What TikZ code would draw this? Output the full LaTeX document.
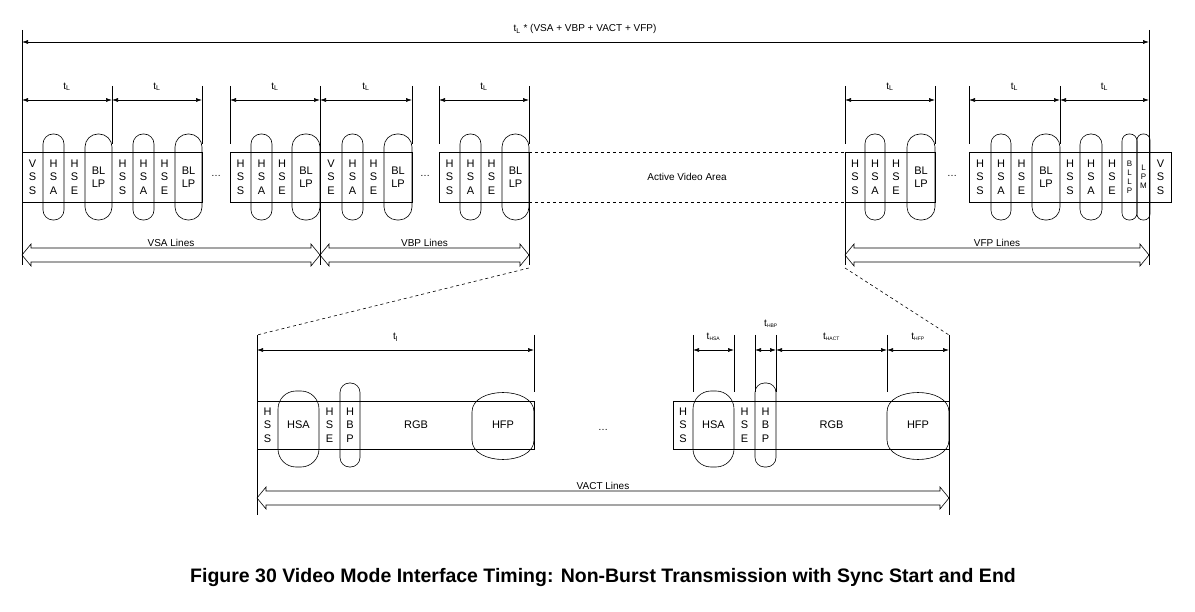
\documentclass[tikz,border=0pt]{standalone}
\usepackage{fontspec}
\setmainfont{Liberation Sans}
\usetikzlibrary{arrows.meta}
\newcommand\cellt[3]{\node[cl] at ({(#1+#2)/2},177) {#3};}
\newcommand\stad[5]{\draw[rounded corners=#5pt] (#1,#3) rectangle (#2,#4);}
\newcommand\dimarr[4]{\draw[dim] (#1,#3) -- (#2,#3); \node[lb] at ({(#1+#2)/2},{#3-13}) {#4};}
\newcommand\tick[3]{\draw (#1,#2) -- (#1,#3);}
\newcommand\dbl[4]{\draw[line width=0.6pt] (#1,#3) -- ({#1+9},{#3-11}) -- ({#1+9},{#3-7}) -- ({#2-9},{#3-7}) -- ({#2-9},{#3-11}) -- (#2,#3) -- ({#2-9},{#3+11}) -- ({#2-9},{#3+7}) -- ({#1+9},{#3+7}) -- ({#1+9},{#3+11}) -- cycle;
 \node[lb,anchor=south] at ({(#1+#2)/2},{#3-7}) {#4};}
\newcommand\tl{t\textsubscript{L}}
\begin{document}
\begin{tikzpicture}[x=1pt,y=-1pt,line width=0.6pt,
 cl/.style={font=\fontsize{11}{13.5}\selectfont,inner sep=0,align=center},
 sm/.style={font=\fontsize{8}{9}\selectfont,inner sep=0,align=center},
 lb/.style={font=\fontsize{10}{12}\selectfont,inner sep=1pt},
 dim/.style={{Latex[length=6pt,width=4pt]}-{Latex[length=6pt,width=4pt]}}]
\useasboundingbox (0,0) rectangle (1195,612);
% top overall
\draw (22,30) -- (22,265);
\draw (1149,30) -- (1149,265);
\draw[dim] (22,42) -- (1149,42);
\node[lb] (total) at (585,29) {t\textsubscript{L} * (VSA + VBP + VACT + VFP)};
% boxes
\draw (22,152) rectangle (202,202);
\draw (230,152) rectangle (412,202);
\draw (439,152) rectangle (529,202);
\draw (845,152) rectangle (935,202);
\draw (969,152) rectangle (1171,202);
\draw[dashed] (529,152) -- (845,152);
\draw[dashed] (529,202) -- (845,202);
\node[lb] (ava) at (687,177) {Active Video Area};
% stadiums top
\foreach \a/\b/\r in {43/64/10,85/112/13,133/154/10,175/202/13,251/272/10,292/320/13,342/363/10,384/412/13,460/481/10,502/529/13,865/885/9.5,907/935/13,991/1011/9.5,1032/1060/13,1080/1102/10.5,1122/1137/7,1137/1150/6}
  {\stad{\a}{\b}{134}{220}{\r}}
\draw (320,86) -- (320,265);
% cell texts
\cellt{22}{43}{V\\S\\S} \cellt{43}{64}{H\\S\\A} \cellt{64}{85}{H\\S\\E} \cellt{85}{112}{BL\\LP}
\cellt{112}{133}{H\\S\\S} \cellt{133}{154}{H\\S\\A} \cellt{154}{175}{H\\S\\E} \cellt{175}{202}{BL\\LP}
\cellt{230}{251}{H\\S\\S} \cellt{251}{272}{H\\S\\A} \cellt{272}{292}{H\\S\\E} \cellt{292}{320}{BL\\LP}
\cellt{320}{342}{V\\S\\E} \cellt{342}{363}{H\\S\\A} \cellt{363}{384}{H\\S\\E} \cellt{384}{412}{BL\\LP}
\cellt{439}{460}{H\\S\\S} \cellt{460}{481}{H\\S\\A} \cellt{481}{502}{H\\S\\E} \cellt{502}{529}{BL\\LP}
\cellt{845}{865}{H\\S\\S} \cellt{865}{885}{H\\S\\A} \cellt{885}{907}{H\\S\\E} \cellt{907}{935}{BL\\LP}
\cellt{969}{991}{H\\S\\S} \cellt{991}{1011}{H\\S\\A} \cellt{1011}{1032}{H\\S\\E} \cellt{1032}{1060}{BL\\LP}
\cellt{1060}{1080}{H\\S\\S} \cellt{1080}{1102}{H\\S\\A} \cellt{1102}{1122}{H\\S\\E}
\node[sm] at (1129.5,177) {B\\L\\L\\P};
\node[sm] at (1143.5,177) {L\\P\\M};
\cellt{1150}{1171}{V\\S\\S}
\node[lb] at (216,176) {\dots};
\node[lb] at (425,176) {\dots};
\node[lb] at (952,176) {\dots};
% t_L ticks and arrows
\foreach \x in {112,202,230,412,439,529,845,935,969,1060} {\tick{\x}{86}{144}}
\draw (529,202) -- (529,265);
\draw (845,202) -- (845,265);
\dimarr{22}{112}{100}{\tl} \dimarr{112}{202}{100}{\tl}
\dimarr{230}{320}{100}{\tl} \dimarr{320}{412}{100}{\tl}
\dimarr{439}{529}{100}{\tl}
\dimarr{845}{935}{100}{\tl} \dimarr{969}{1060}{100}{\tl} \dimarr{1060}{1149}{100}{\tl}
% line arrows
\dbl{22}{320}{255}{VSA Lines}
\dbl{320}{529}{255}{VBP Lines}
\dbl{845}{1149}{255}{VFP Lines}
% zoom dashes
\draw[dashed] (529,268) -- (257,335);
\draw[dashed] (845,268) -- (949,335);
% bottom left line
\draw (257,335) -- (257,515);
\draw (949,335) -- (949,515);
\draw (257,401) rectangle (534,449);
\draw (673,401) rectangle (949,449);
\stad{278}{319}{391}{467}{18}
\stad{340}{360}{383}{467}{9.5}
\stad{693}{734}{391}{467}{18}
\stad{755}{776}{383}{467}{9.5}
\draw (472,425) -- (472,412) .. controls (472,386) and (534,386) .. (534,412) -- (534,440) .. controls (534,466) and (472,466) .. (472,440) -- cycle;
\draw (887,425) -- (887,412) .. controls (887,386) and (949,386) .. (949,412) -- (949,440) .. controls (949,466) and (887,466) .. (887,440) -- cycle;
\foreach \o in {0,416}{
 \cellt{257+\o}{278+\o}{}
}
\node[cl] at (267.5,425) {H\\S\\S}; \node[cl] at (298.5,425) {HSA}; \node[cl] at (329.5,425) {H\\S\\E};
\node[cl] at (350,425) {H\\B\\P}; \node[cl] at (416,425) {RGB}; \node[cl] at (503,425) {HFP};
\node[cl] at (683,425) {H\\S\\S}; \node[cl] at (713.5,425) {HSA}; \node[cl] at (744.5,425) {H\\S\\E};
\node[cl] at (765.5,425) {H\\B\\P}; \node[cl] at (831.5,425) {RGB}; \node[cl] at (918,425) {HFP};
\node[lb] at (603,430) {\dots};
\tick{534}{335}{392}
\foreach \x in {693,734,755,776,887} {\tick{\x}{335}{392}}
\dimarr{257}{534}{350}{t\textsubscript{l}}
\dimarr{693}{734}{350}{t\textsubscript{\tiny HSA}}
\draw[dim] (755,350) -- (776,350); \node[lb] at (771,324) {t\textsubscript{\tiny HBP}};
\dimarr{776}{887}{350}{t\textsubscript{\tiny HACT}}
\dimarr{887}{949}{350}{t\textsubscript{\tiny HFP}}
\dbl{257}{949}{498}{VACT Lines}
\node[font=\bfseries\fontsize{19.5}{22}\selectfont] (title) at (603,578) {Figure 30 Video Mode Interface Timing: Non-Burst Transmission with Sync Start and End};
\end{tikzpicture}
\end{document}
